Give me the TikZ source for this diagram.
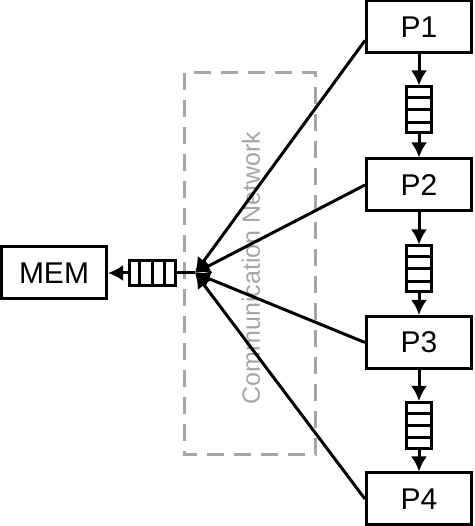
\documentclass[tikz,border=0pt]{standalone}
\usepackage{fontspec}
\setmainfont{Liberation Sans}
\usetikzlibrary{calc,arrows.meta}
\tikzset{
proc/.style={draw, line width=3pt, minimum width=105pt, minimum height=52pt, inner sep=0pt, font=\fontsize{30}{32}\selectfont},
vbuf/.style={draw, line width=3pt, minimum width=25pt, minimum height=46pt, inner sep=0pt},
hbuf/.style={draw, line width=3pt, minimum width=46pt, minimum height=25pt, inner sep=0pt},
link/.style={line width=3pt, -{Latex[length=15pt,width=16pt]}},
netbox/.style={draw=gray!70, line width=3pt, dash pattern=on 17pt off 10pt}
}
\def\vqueue#1{
\foreach \k in {1,2,3}
\draw[line width=3pt] ($(#1.north west)!\k/4!(#1.south west)$) -- ($(#1.north east)!\k/4!(#1.south east)$);
}
\def\hqueue#1{
\foreach \k in {1,2,3}
\draw[line width=3pt] ($(#1.north west)!\k/4!(#1.north east)$) -- ($(#1.south west)!\k/4!(#1.south east)$);
}
\begin{document}
\begin{tikzpicture}[x=1pt,y=1pt]
\useasboundingbox (0,0) rectangle (474,526);
% network
\draw[netbox] (184,453) rectangle (315,71);
\node[rotate=90, text=gray!70, font=\fontsize{25}{27}\selectfont] (net) at (251,258) {Communication Network};
% processors and buffers
\node[proc] (P1) at (419,499) {P1};
\node[proc] (P2) at (419,341) {P2};
\node[proc] (P3) at (419,183.5) {P3};
\node[proc] (P4) at (419,27) {P4};
\node[vbuf] (Q1) at (419,416) {};
\node[vbuf] (Q2) at (419,257) {};
\node[vbuf] (Q3) at (419,100.5) {};
\vqueue{Q1}
\vqueue{Q2}
\vqueue{Q3}
\draw[link] (P1) -- (Q1);
\draw[link] (Q1) -- (P2);
\draw[link] (P2) -- (Q2);
\draw[link] (Q2) -- (P3);
\draw[link] (P3) -- (Q3);
\draw[link] (Q3) -- (P4);
% memory side
\node[proc] (MEM) at (54,253) {MEM};
\node[hbuf] (QM) at (152,253) {};
\hqueue{QM}
\coordinate (hub) at (195,253);
\draw[link] (P1.194) -- (hub);
\draw[link] (P2.west) -- (hub);
\draw[link] (P3.west) -- (hub);
\draw[link] (P4.west) -- (hub);
\draw[line width=3pt] (hub) -- (QM);
\draw[link] (QM) -- (MEM);
\end{tikzpicture}
\end{document}
